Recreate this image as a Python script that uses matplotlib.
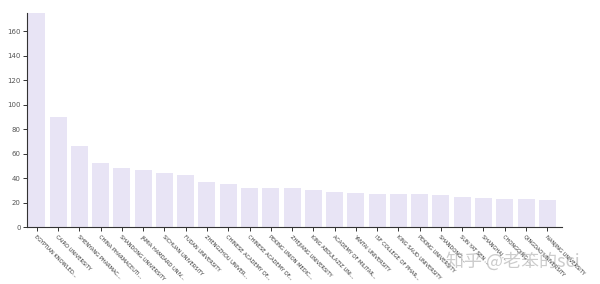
import matplotlib
matplotlib.use("Agg")
import matplotlib.pyplot as plt

institutions = [
    "EGYPTIAN KNOWLED...", "CAIRO UNIVERSITY", "SHENYANG PHARMAC...",
    "CHINA PHARMACEUTI...", "SHANDONG UNIVERSITY", "JAMIA HAMDARD UNIV...",
    "SICHUAN UNIVERSITY", "FUDAN UNIVERSITY", "ZHENGZHOU UNIVER...",
    "CHINESE ACADEMY OF...", "CHINESE ACADEMY OF...", "PEKING UNION MEDIC...",
    "ZHEJIANG UNIVERSITY", "KING ABDULAZIZ UNI...", "ACADEMY OF MILITAR...",
    "YANTAI UNIVERSITY", "ISF COLLEGE OF PHAR...", "KING SAUD UNIVERSITY",
    "PEKING UNIVERSITY", "SHANDONG ...", "SUN YAT SEN ...",
    "SHANGHAI ...", "CHONGQING ...", "QINGDAO UNIVERSITY", "NANJING UNIVERSITY",
]
counts = [175, 90, 66, 52, 48, 47, 44, 43, 37, 35, 32, 32, 32, 30, 29,
          28, 27, 27, 27, 26, 25, 24, 23, 23, 22]
y_ticks = [0, 20, 40, 60, 80, 100, 120, 140, 160]

fig = plt.figure(figsize=(6, 2.84), dpi=100)
ax = fig.add_axes([0.045, 0.200, 0.892, 0.755])

x = range(len(counts))
ax.bar(x, counts, width=0.8, color="#e8e4f5")

ax.set_xlim(-0.46, len(counts) - 1 + 0.7)
ax.set_ylim(0, 175)
ax.set_yticks(y_ticks)
ax.set_xticks(list(x))
ax.set_xticklabels(institutions, rotation=-45, ha="left", va="top",
                   rotation_mode="anchor", fontsize=3.7, color="#555555")
ax.tick_params(axis="y", labelsize=5, colors="#333333", length=3, width=0.7,
               labelcolor="#555555", pad=1.5)
ax.tick_params(axis="x", length=3, width=0.7, colors="#333333", pad=2)

for side in ["top", "right"]:
    ax.spines[side].set_visible(False)
for side in ["left", "bottom"]:
    ax.spines[side].set_color("#333333")
    ax.spines[side].set_linewidth(0.8)

fig.text(0.855, 0.08, "知乎 @老笨的sci", fontsize=13, color="#aaaaaa",
         alpha=0.6, ha="center", va="center",
         family=["Noto Sans CJK SC", "DejaVu Sans"])

fig.savefig("out.png", dpi=100)
